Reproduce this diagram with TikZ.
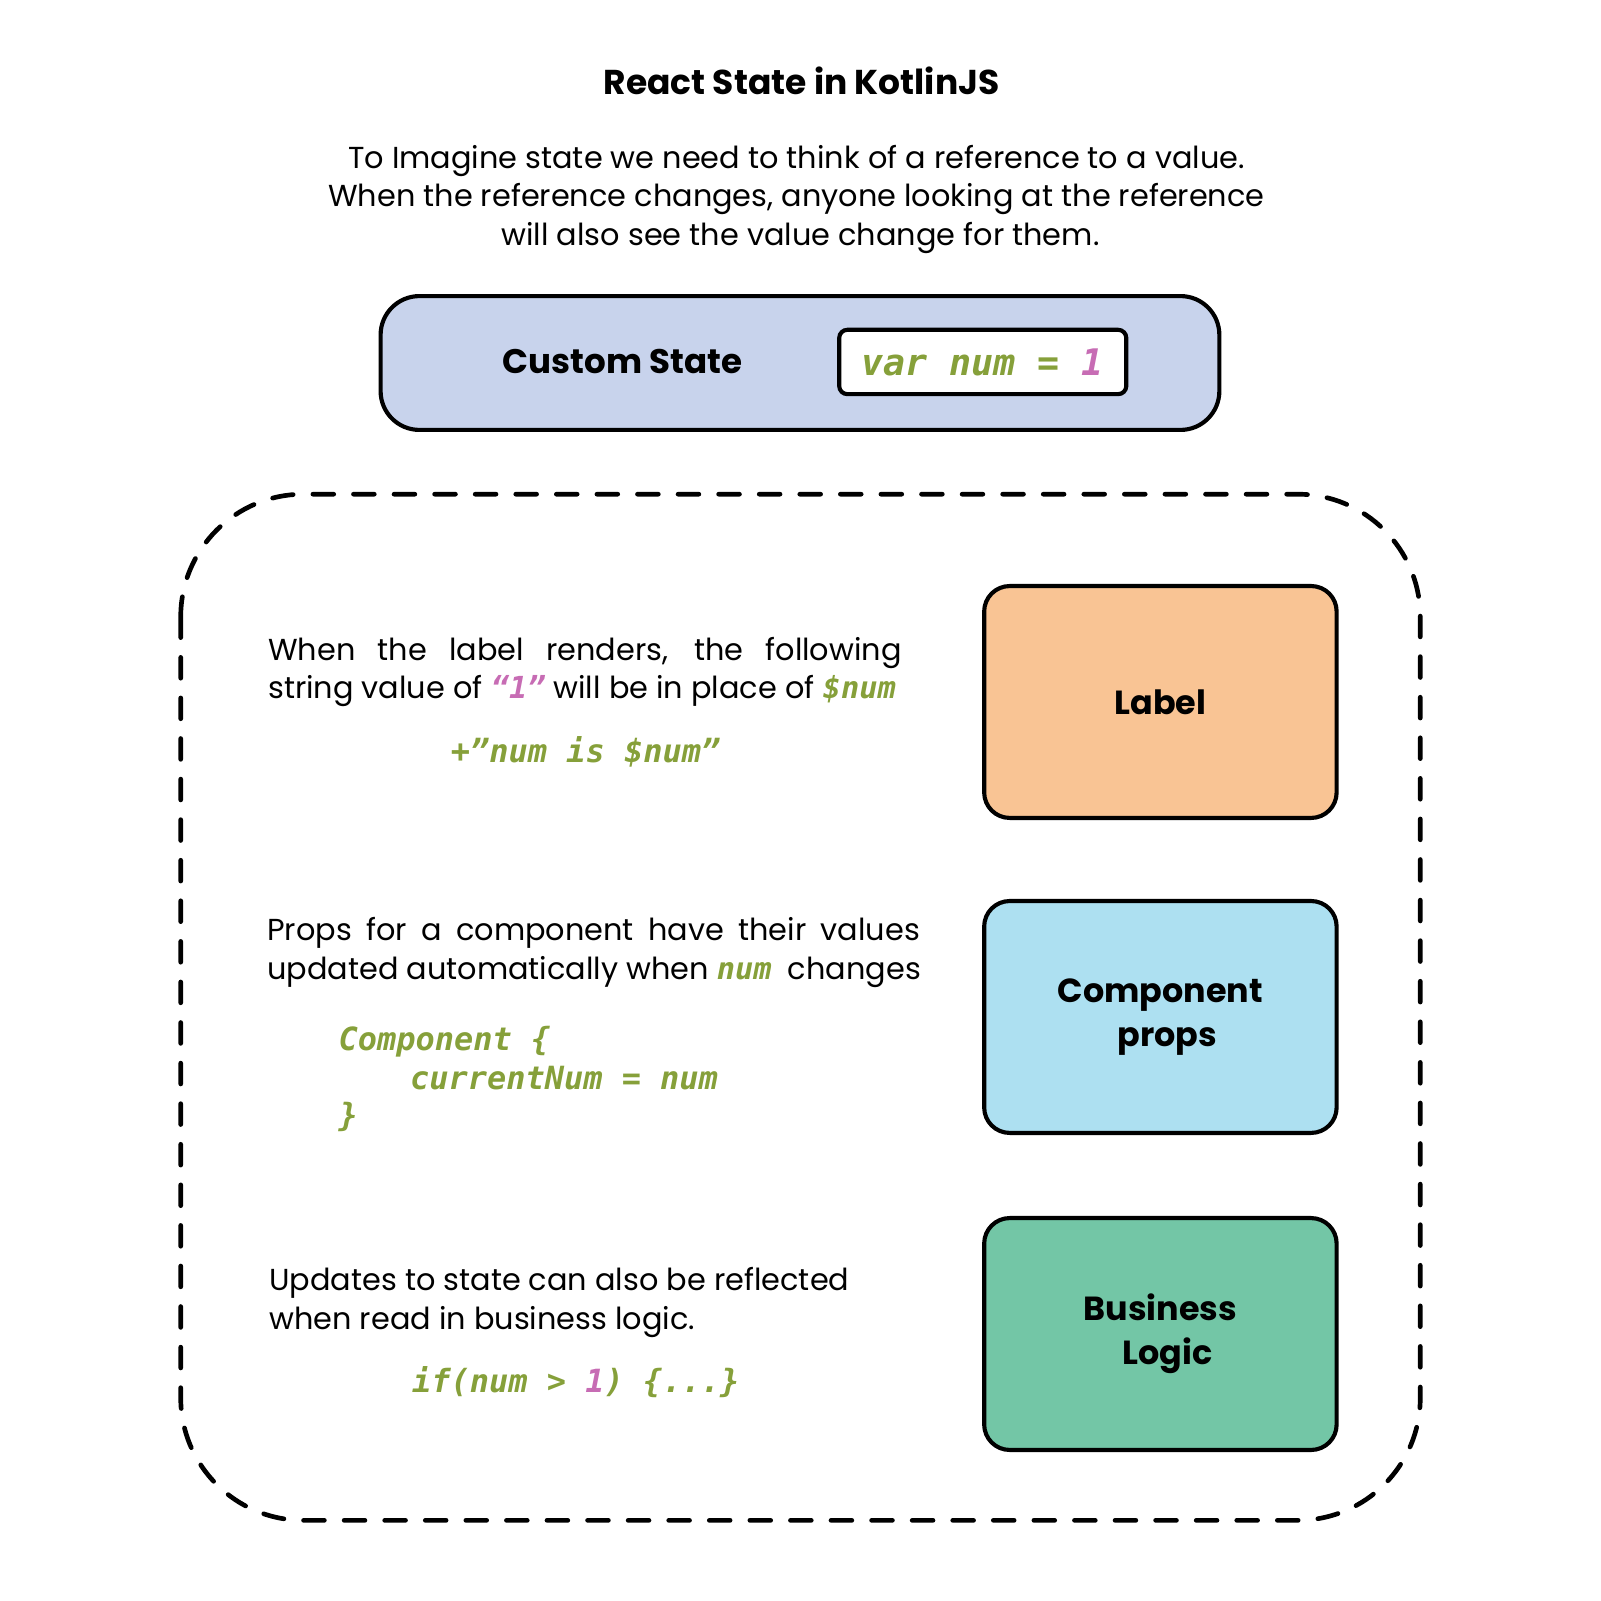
\documentclass[tikz,border=0pt]{standalone}
\usepackage{fontspec}
\setmainfont{Poppins}
\setmonofont{DejaVu Sans Mono}
\usepackage{xcolor}
\usepackage{tikz}
\usetikzlibrary{positioning}

\definecolor{statefill}{HTML}{C8D3EC}
\definecolor{labelfill}{HTML}{F9C494}
\definecolor{propsfill}{HTML}{ADE0F1}
\definecolor{logicfill}{HTML}{73C6A6}
\definecolor{codegreen}{HTML}{86A03A}
\definecolor{codepink}{HTML}{C76CB4}

\newcommand{\kt}[1]{{\ttfamily\bfseries\itshape\color{codegreen}#1}}
\newcommand{\kpink}[1]{{\ttfamily\bfseries\itshape\color{codepink}#1}}

\tikzset{
  bodytext/.style={anchor=base west, inner sep=0pt, font=\fontsize{8.45}{10}\selectfont},
  codetext/.style={anchor=base west, inner sep=0pt, font=\fontsize{8.9}{10}\selectfont},
  partbox/.style={draw, line width=1.15pt, rounded corners=0.25cm, minimum width=3.45cm, minimum height=2.27cm,
    align=center, font=\fontsize{9.3}{12.2}\selectfont\bfseries},
}

\begin{document}
\begin{tikzpicture}[x=0.01cm, y=-0.01cm]
  \useasboundingbox (0,0) rectangle (1568,1568);

  % heading
  \node[anchor=base, inner sep=0pt, font=\fontsize{9.6}{10}\selectfont\bfseries] (title) at (785,93) {React State in KotlinJS};
  \node[anchor=base, inner sep=0pt, font=\fontsize{8.45}{10}\selectfont] (introa) at (780,165) {To Imagine state we need to think of a reference to a value.};
  \node[anchor=base, inner sep=0pt, font=\fontsize{8.45}{10}\selectfont] (introb) at (780,202) {When the reference changes, anyone looking at the reference};
  \node[anchor=base, inner sep=0pt, font=\fontsize{8.45}{10}\selectfont] (introc) at (784,240) {will also see the value change for them.};

  % the state
  \node[draw, fill=statefill, line width=1.15pt, rounded corners=0.38cm, minimum width=8.21cm, minimum height=1.31cm] (state) at (783.5,355.5) {};
  \node[anchor=base, inner sep=0pt, font=\fontsize{9.5}{10}\selectfont\bfseries] (statename) at (610,366) {Custom State};
  \node[draw, fill=white, line width=1.15pt, rounded corners=0.08cm, minimum width=2.81cm, minimum height=0.63cm,
    font=\fontsize{10.2}{11}\selectfont] (stateval) at (962.5,354.5) {\kt{var num = }\kpink{1}};

  % consumers of the state
  \draw[line width=1.3pt, dash pattern=on 5.8pt off 5.5pt, line cap=round, rounded corners=1.2cm] (177,484) rectangle (1391,1489);

  \node[partbox, fill=labelfill] (label) at (1136.5,687.5) {Label};
  \node[partbox, fill=propsfill] (props) at (1136.5,996) {Component\\\ \ props};
  \node[partbox, fill=logicfill] (logic) at (1136.5,1306.5) {Business\\\ \ Logic};

  \node[bodytext] (labela) at (262,647) {\makebox[6.2cm][s]{When the label renders, the following}};
  \node[bodytext] (labelb) at (262,684) {string value of \kpink{“1”} will be in place of \kt{\$num}};
  \node[codetext] (labelcode) at (441,747) {\kt{+”num is \$num”}};

  \node[bodytext] (propsa) at (261,921) {\makebox[6.39cm][s]{Props for a component have their values}};
  \node[bodytext] (propsb) at (261,959) {updated automatically when \kt{num}\ \ changes};
  \node[codetext] (propscodea) at (331,1029) {\kt{Component \{}};
  \node[codetext] (propscodeb) at (401,1067) {\kt{currentNum = num}};
  \node[codetext] (propscodec) at (331,1103) {\kt{\}}};

  \node[bodytext] (logica) at (263,1264) {Updates to state can also be reflected};
  \node[bodytext] (logicb) at (263,1302) {when read in business logic.};
  \node[codetext] (logiccode) at (403,1364) {\kt{if(num > }\kpink{1}\kt{) \{...\}}};
\end{tikzpicture}
\end{document}
